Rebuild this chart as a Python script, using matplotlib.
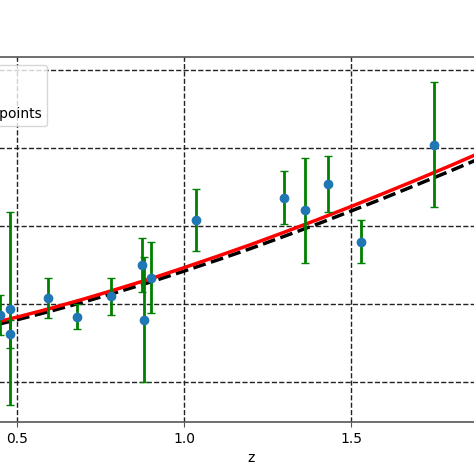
"""H(z) das cronometras cósmicas contra o modelo LCDM e o ajuste"""
import numpy as np
import matplotlib
matplotlib.use('Agg')
import matplotlib.pyplot as plt

# dados observacionais (z, H, erro)
z_data = [0.07, 0.09, 0.12, 0.17, 0.179, 0.199, 0.2, 0.27, 0.28, 0.352,
          0.3802, 0.4, 0.4004, 0.4247, 0.4497, 0.4783, 0.48, 0.593, 0.68,
          0.781, 0.875, 0.88, 0.9, 1.037, 1.3, 1.363, 1.43, 1.53, 1.75, 1.965]
h_data = [69, 69, 68.6, 83, 75, 75, 72.9, 77, 88.8, 83,
          83, 95, 77, 87.1, 92.8, 80.9, 97, 104, 92,
          105, 125, 90, 117, 154, 168, 160, 177, 140, 202, 186.5]
h_err = [19.6, 12, 26.2, 8, 4, 5, 29.6, 14, 36.6, 14,
         13.5, 17, 10.2, 11.2, 12.9, 9, 62, 13, 8,
         12, 17, 40, 23, 20, 17, 33.6, 18, 14, 40, 50.4]

# curvas
z_curve = [0.4, 0.5, 0.6, 0.7, 0.8, 0.9, 1.0, 1.1, 1.2, 1.3, 1.4, 1.5,
           1.6, 1.7, 1.8, 1.9, 2.0]
h_lcdm = [86.4, 91.6, 97.2, 103.2, 109.6, 116.2, 123.3, 130.6, 138.1, 146.0,
          154.1, 162.5, 171.1, 179.9, 188.9, 198.2, 207.7]
h_model = [84.8, 89.9, 95.4, 101.3, 107.6, 114.1, 121.1, 128.2, 135.6, 143.4,
           151.3, 159.6, 168.0, 176.7, 185.5, 194.6, 204.0]


def main():
    fig = plt.figure(figsize=(4.74, 4.74), dpi=100)
    # o gráfico original é maior, só a parte central aparece
    ax = fig.add_axes([-0.3165, 0.1097, 1.6911, 0.7700])

    ax.plot(z_curve, h_model, 'k--', lw=2.5, label='Best fit')
    ax.plot(z_curve, h_lcdm, 'r-', lw=2.5, label=r'$\Lambda$CDM')
    ax.errorbar(z_data, h_data, yerr=h_err, fmt='o', color='C0',
                ecolor='green', elinewidth=2, capsize=3, markersize=6,
                label='Observational Hubble parameter data points')

    ax.set_xlim(0.0, 2.4)
    ax.set_ylim(24.4, 258.3)
    ax.set_xticks([0.0, 0.5, 1.0, 1.5, 2.0])
    ax.set_yticks([50, 100, 150, 200, 250])
    ax.grid(True, linestyle='--', color='#222222', linewidth=1)
    for spine in ax.spines.values():
        spine.set_color('#555555')
        spine.set_linewidth(1.2)
    ax.tick_params(color='#555555')
    ax.set_xlabel('z')
    ax.set_ylabel('H(z)')

    ax.legend(loc='upper right', bbox_to_anchor=(47 / 474, 1 - 65 / 474),
              bbox_transform=fig.transFigure, borderaxespad=0,
              labelspacing=0.3)

    fig.savefig('out.png', dpi=100)


if __name__ == '__main__':
    main()
